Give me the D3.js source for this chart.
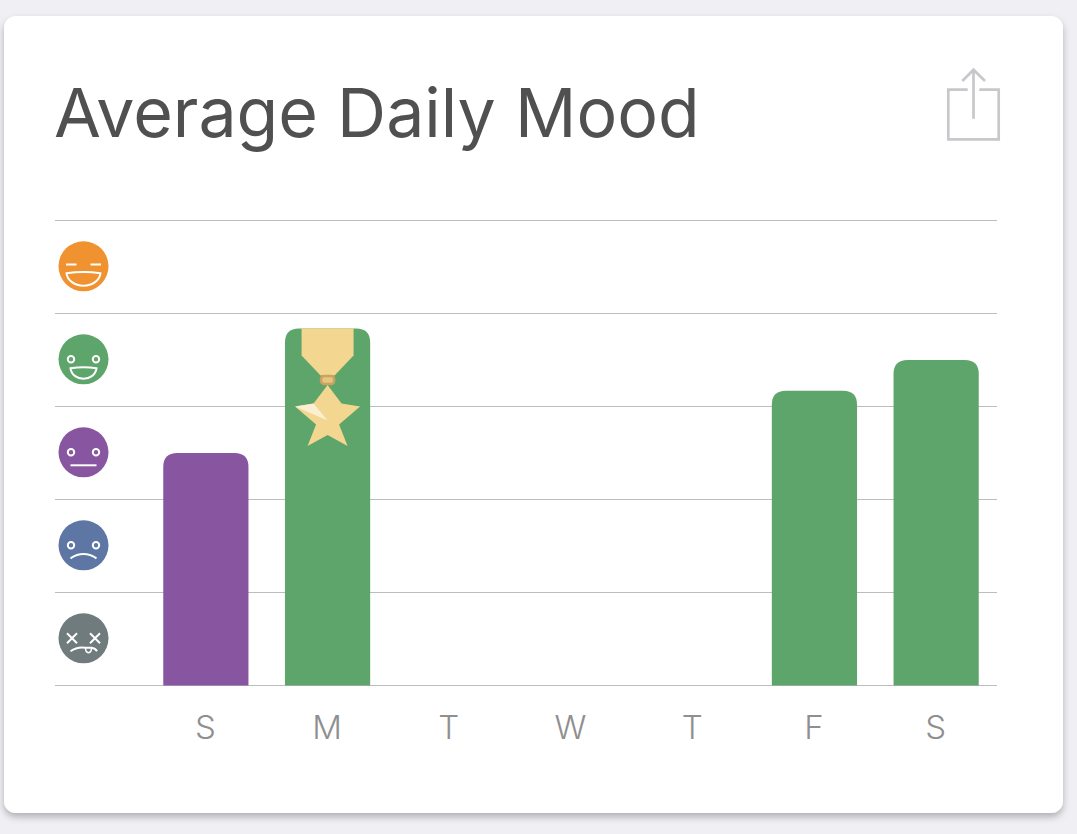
<!DOCTYPE html>
<html>
<head>
<meta charset="utf-8">
<script src="https://cdnjs.cloudflare.com/ajax/libs/d3/7.8.5/d3.min.js"></script>
<style>
html, body { margin: 0; padding: 0; background: #efeff4; }
svg { display: block; }
</style>
</head>
<body>
<div id="chart"></div>
<script>
'use strict';

var days = ["S", "M", "T", "W", "T", "F", "S"];
var dayIds = ["sun", "mon", "tue", "wed", "thu", "fri", "sat"];
var moodValues = [2.5, 3.84, null, null, null, 3.17, 3.5];
var moodLevels = [1, 2, 3, 4, 5];
var moodColors = ["#6f7b7c", "#5d76a3", "#8855a0", "#5ea56b", "#ef922f"];
var gridTicks = [0, 1, 2, 3, 4, 5];

var svg = d3.select("#chart").append("svg").attr("width", 1077).attr("height", 834);

var defs = svg.append("defs");
var shadow = defs.append("filter").attr("id", "cardShadow")
  .attr("x", "-5%").attr("y", "-5%").attr("width", "110%").attr("height", "110%");
shadow.append("feDropShadow").attr("dx", 0).attr("dy", 4).attr("stdDeviation", 3.5)
  .attr("flood-color", "#000").attr("flood-opacity", 0.26);

svg.append("rect").attr("x", 4).attr("y", 16).attr("width", 1059).attr("height", 797)
  .attr("rx", 12).attr("fill", "#fff").attr("filter", "url(#cardShadow)");

svg.append("text").attr("x", 54).attr("y", 137)
  .style("font-family", "Inter, Roboto, sans-serif")
  .style("font-size", "68px").style("font-weight", 400)
  .style("fill", "#505050").text("Average Daily Mood");

// share icon
var share = svg.append("g").attr("fill", "none").attr("stroke", "#c8c8cc").attr("stroke-width", 2.7);
share.append("path").attr("d", "M967.7 89.7H948.3V139.3H998.7V89.7H979.3");
share.append("path").attr("d", "M973.5 118.7V70M962.3 81L973.5 69.7L985 81");

var x = d3.scaleBand().domain(d3.range(days.length)).range([145, 997]).paddingInner(0.3).paddingOuter(0.15);
var y = d3.scaleLinear().domain([0, 5]).range([685.5, 220.5]);

var grid = svg.append("g");
grid.selectAll("line").data(gridTicks).join("line")
  .attr("x1", 55).attr("x2", 997)
  .attr("y1", function(d) { return y(d); }).attr("y2", function(d) { return y(d); })
  .attr("stroke", "#bdbdbd").attr("stroke-width", 1);

function barPath(i) {
  var left = x(i), right = left + x.bandwidth(), top = y(moodValues[i]), bottom = y(0), r = 14;
  return "M" + left + " " + bottom + "V" + (top + r) + "Q" + left + " " + top + " " + (left + r) + " " + top +
    "H" + (right - r) + "Q" + right + " " + top + " " + right + " " + (top + r) + "V" + bottom + "Z";
}

// bars take the colour of the mood band they reach into
var loggedDays = d3.range(days.length).filter(function(i) { return moodValues[i] !== null; });
svg.append("g").selectAll("path")
  .data(loggedDays)
  .join("path")
  .attr("d", barPath)
  .attr("fill", function(i) { return moodColors[Math.floor(moodValues[i])]; });

// medal on the best day
var best = d3.max(moodValues);
var bestIndex = moodValues.indexOf(best);
var medal = svg.append("g").attr("transform", "translate(" + (x(bestIndex) + x.bandwidth() / 2) + "," + y(best) + ")");
medal.append("path").attr("d", "M-26 0H26V27L7 47H-7L-26 27Z").attr("fill", "#f3d690");
medal.append("rect").attr("x", -6.5).attr("y", 47.5).attr("width", 13).attr("height", 8).attr("rx", 3)
  .attr("fill", "#e6c67f").attr("stroke", "#c9a35f").attr("stroke-width", 2.5);
medal.append("path").attr("d", "M0 56.5L14 75L32.5 78L11.5 96L20 117.5L0 106.5L-20 117.5L-11.5 96L-32.5 78L-14 75Z").attr("fill", "#f3d690");
medal.append("path").attr("d", "M-32.5 78L-14 75L0 92Z").attr("fill", "#fbeed3");

// mood faces on the y axis
var faces = svg.append("g").selectAll("g").data(moodLevels).join("g")
  .attr("transform", function(d) { return "translate(83.5," + (y(d - 0.5) - 0.7) + ")"; });
faces.append("circle").attr("r", 25).attr("fill", function(d) { return moodColors[d - 1]; });
faces.each(function(d) {
  var g = d3.select(this).append("g").attr("fill", "none").attr("stroke", "#fff").attr("stroke-width", 2);
  if (d === 1) {
    g.append("path").attr("d", "M-16.5 -5L-6.5 5M-16.5 5L-6.5 -5M6.5 -5L16.5 5M6.5 5L16.5 -5");
    g.append("path").attr("d", "M-13 13Q-6 8 2 9.5H8Q12 10 13.5 13");
    g.append("path").attr("d", "M2 9.5C2 16 8 16 8 9.5").attr("stroke-width", 1.5);
  } else if (d === 2) {
    g.append("circle").attr("cx", -12.5).attr("cy", 0).attr("r", 3.2);
    g.append("circle").attr("cx", 12.5).attr("cy", 0).attr("r", 3.2);
    g.append("path").attr("d", "M-13 13Q0 4.5 13 13");
  } else if (d === 3) {
    g.append("circle").attr("cx", -12.5).attr("cy", 0).attr("r", 3.2);
    g.append("circle").attr("cx", 12.5).attr("cy", 0).attr("r", 3.2);
    g.append("path").attr("d", "M-13 13H13");
  } else if (d === 4) {
    g.append("circle").attr("cx", -12.5).attr("cy", 0).attr("r", 3.2);
    g.append("circle").attr("cx", 12.5).attr("cy", 0).attr("r", 3.2);
    g.append("path").attr("d", "M-13 9Q0 7 13 9C12 16 6 19.5 0 19.5C-6 19.5 -12 16 -13 9Z");
  } else {
    g.append("path").attr("d", "M-17.5 -1.7H-7M7 -1.7H17.5");
    g.append("path").attr("d", "M-17 7Q0 4.5 17 7C16 14 9 19.5 0 19.5C-9 19.5 -16 14 -17 7Z");
  }
});

var xAxis = d3.axisBottom(d3.scaleBand().domain(dayIds).range([145, 997]).paddingInner(0.3).paddingOuter(0.15))
  .tickFormat(function(d, i) { return days[i]; }).tickSize(0);
var axisG = svg.append("g").attr("transform", "translate(0,685)").call(xAxis);
axisG.select(".domain").remove();
axisG.selectAll("text")
  .attr("x", -0.5).attr("y", 31).attr("dy", "0.71em")
  .style("font-family", "Inter, Roboto, sans-serif")
  .style("font-size", "33px").style("font-weight", 300)
  .style("fill", "#8f8f8f");
</script>
</body>
</html>
